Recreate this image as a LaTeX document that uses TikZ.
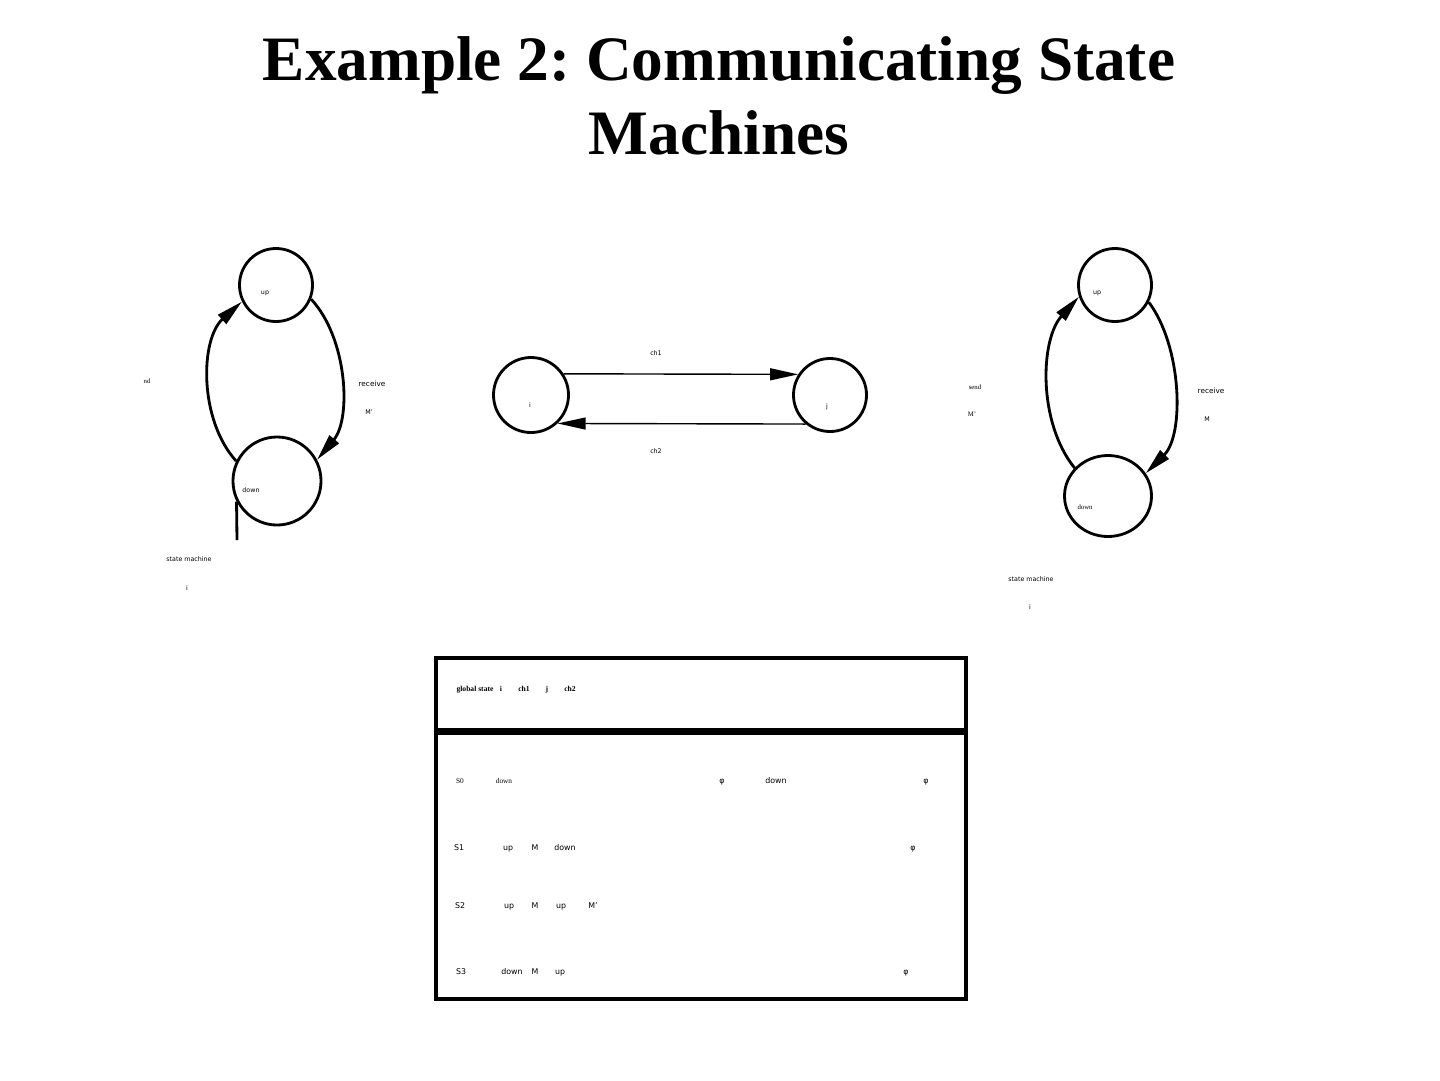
\documentclass[tikz,border=0pt]{standalone}
\usepackage{fontspec}
\setmainfont{Liberation Serif}
\setsansfont{DejaVu Sans}
\usepackage{tikz}
\usetikzlibrary{arrows.meta,positioning,shapes.geometric}
\frenchspacing
\tikzset{
  % state circles and connectors
  state/.style    = {circle, draw, line width=2pt, inner sep=0pt},
  loopedge/.style = {line width=2pt, -{Triangle[length=19pt,width=8.5pt]}},
  chan/.style     = {line width=1pt, -{Triangle[length=20pt,width=8.5pt]}},
  % texts
  title/.style = {font=\bfseries\fontsize{45}{53}\selectfont, align=center, inner sep=0pt},
  txt/.style   = {inner sep=0pt, text height=1.5ex, text depth=.25ex},
  lbl/.style   = {txt, font=\sffamily\fontsize{4.5}{5}\selectfont},
  big/.style   = {txt, font=\sffamily\fontsize{5.2}{6}\selectfont},
  slbl/.style  = {txt, font=\fontsize{4.8}{5}\selectfont},
  hdr/.style   = {txt, font=\bfseries\fontsize{5.4}{6}\selectfont},
  cell/.style  = {txt, font=\sffamily\fontsize{5.6}{6}\selectfont},
  scell/.style = {txt, font=\fontsize{5.2}{6}\selectfont},
  frame/.style = {draw, line width=2.8pt},
}
\begin{document}
\begin{tikzpicture}[x=0.025cm, y=-0.025cm]
\useasboundingbox (0,0) rectangle (1440,1080);

% --- title ------------------------------------------------------------
\node[title] (ttl) at (719,96) {Example 2: Communicating State\\Machines};

% --- state machine i (left) -------------------------------------------
\node[state, minimum size=1.825cm] (lup) at (276,285) {};
\node[state, minimum size=2.2cm]   (ldn) at (277,481) {};
\draw[loopedge] (ldn.154) to[out=132, in=-138, looseness=0.9] (lup.206);
\draw[loopedge] (lup.-22) to[out=-47, in=50, looseness=0.85] (ldn.28);
\coordinate (ltail) at (237,540);
\draw[line width=2pt] (ldn.207) -- (ltail);

\node[lbl]  (lupt) at (265,290) {up};
\node[lbl]  (ldnt) at (251,488) {down};
\node[slbl] (lsnd) at (147,379) {nd};
\node[big]  (lrcv) at (372,382) {receive};
\node[lbl]  (lmsg) at (369,410) {M'};
\node[lbl]  (lsm)  at (189,557) {state machine};
\node[lbl]  (lid)  at (187,586) {i};

% --- channels (middle) --------------------------------------------------
\node[state, minimum size=1.875cm] (ci) at (531,395) {};
\node[state, minimum size=1.825cm] (cj) at (830,395) {};
\draw[chan] (ci.33) -- (cj.147);
\draw[chan] (cj.230) -- (ci.-47);

\node[lbl] (cit) at (530,403) {i};
\node[lbl] (cjt) at (827,404) {j};
\node[lbl] (ch1) at (656,351) {ch1};
\node[lbl] (ch2) at (656,449) {ch2};

% --- state machine j (right) ------------------------------------------
\node[state, minimum size=1.825cm] (rup) at (1115,285) {};
\node[state, ellipse, minimum width=2.175cm, minimum height=2.025cm] (rdn) at (1108,496) {};
\draw[loopedge] (rdn.140) to[out=129, in=-132, looseness=0.87] (rup.198);
\draw[loopedge] (rup.-27) to[out=-53, in=45, looseness=0.82] (rdn.31);

\node[lbl]  (rupt) at (1097,290) {up};
\node[slbl] (rdnt) at (1085,505) {down};
\node[slbl] (rsnd) at (975,385)  {send};
\node[slbl] (rmsg) at (972,412)  {M'};
\node[big]  (rrcv) at (1211,389) {receive};
\node[lbl]  (rm)   at (1207,417) {M};
\node[lbl]  (rsm)  at (1031,577) {state machine};
\node[lbl]  (rid)  at (1030,605) {i};

% --- global state table -------------------------------------------------
\draw[frame] (436,658) rectangle (966,730);
\draw[frame] (436,733) rectangle (966,999);

\foreach \t/\x [count=\k] in {global state/475, i/501, ch1/524, j/547, ch2/570}
  \node[hdr] (hd\k) at (\x,687) {\t};

\node[scell] (s0a) at (460,779) {S0};
\node[scell] (s0b) at (504,779) {down};
\node[cell]  (s0c) at (722,779) {φ};
\node[cell]  (s0d) at (776,779) {down};
\node[cell]  (s0e) at (926,779) {φ};

\foreach \t/\x [count=\k] in {S1/459, up/508, M/535, down/565, φ/913}
  \node[cell] (sa\k) at (\x,846) {\t};
\foreach \t/\x [count=\k] in {S2/460, up/509, M/535, up/561, M'/593}
  \node[cell] (sb\k) at (\x,904) {\t};
\foreach \t/\x [count=\k] in {S3/461, down/512, M/535, up/560, φ/906}
  \node[cell] (sc\k) at (\x,970) {\t};
\end{tikzpicture}
\end{document}
